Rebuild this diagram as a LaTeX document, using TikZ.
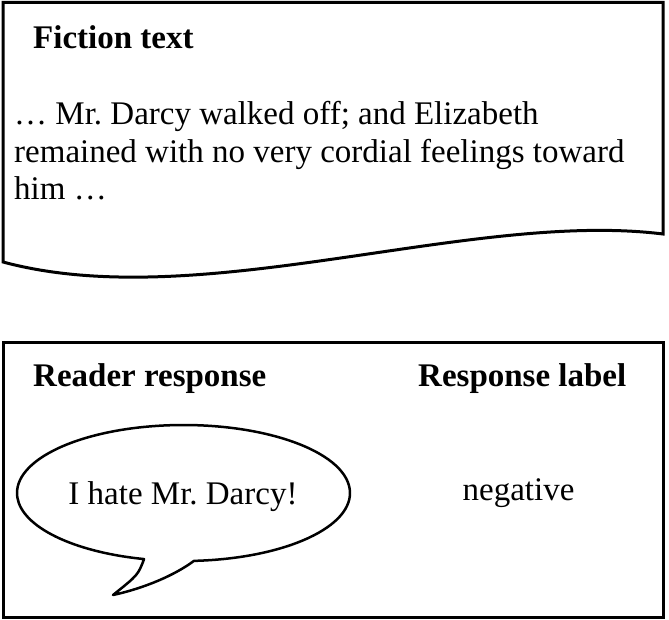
\documentclass[tikz,border=0pt]{standalone}
\usepackage{fontspec}
\setmainfont{Liberation Serif}
\usetikzlibrary{positioning}
\frenchspacing

\begin{document}
\begin{tikzpicture}
[x=1pt,y=-1pt,
frame/.style={line width=3pt},
bubble/.style={line width=2.5pt,line join=round},
txt/.style={inner sep=0pt,font=\fontsize{33}{37.5}\selectfont},
heading/.style={txt,font=\fontsize{33}{37.5}\selectfont\bfseries,anchor=base west},
plain/.style={txt,anchor=base}]

\useasboundingbox (0,0) rectangle (669,620);

% fiction text
\draw[frame] (3,2.5) -- (663,2.5) -- (663,234)
  .. controls (470,210) and (200,315) .. (3,262) -- cycle;
\node (ftitle) [heading] at (33,49) {Fiction text};
% base anchor sits on the last line
\node (fbody) [txt,align=left,anchor=base west] at (14,200)
  {\dots{} Mr. Darcy walked off; and Elizabeth\\
   remained with no very cordial feelings toward\\
   him \dots};

% reader response
\draw[frame] (3,342.5) rectangle (663,617);
\node (rtitle) [heading] at (33,386) {Reader response};
\node (ltitle) [heading] at (418,386) {Response label};
\coordinate (bc) at (183.5,493);
\draw[bubble] (193.95,560.87)
  arc[start angle=86.4,end angle=-256.3,x radius=166.5,y radius=68]
  .. controls (138,575) .. (113,595)
  .. controls (145,588) and (175,575) .. cycle;
\node (resp) [plain] at (183,504) {I hate Mr. Darcy!};
\node (lab) [plain] at (518.5,500) {negative};

\end{tikzpicture}
\end{document}
